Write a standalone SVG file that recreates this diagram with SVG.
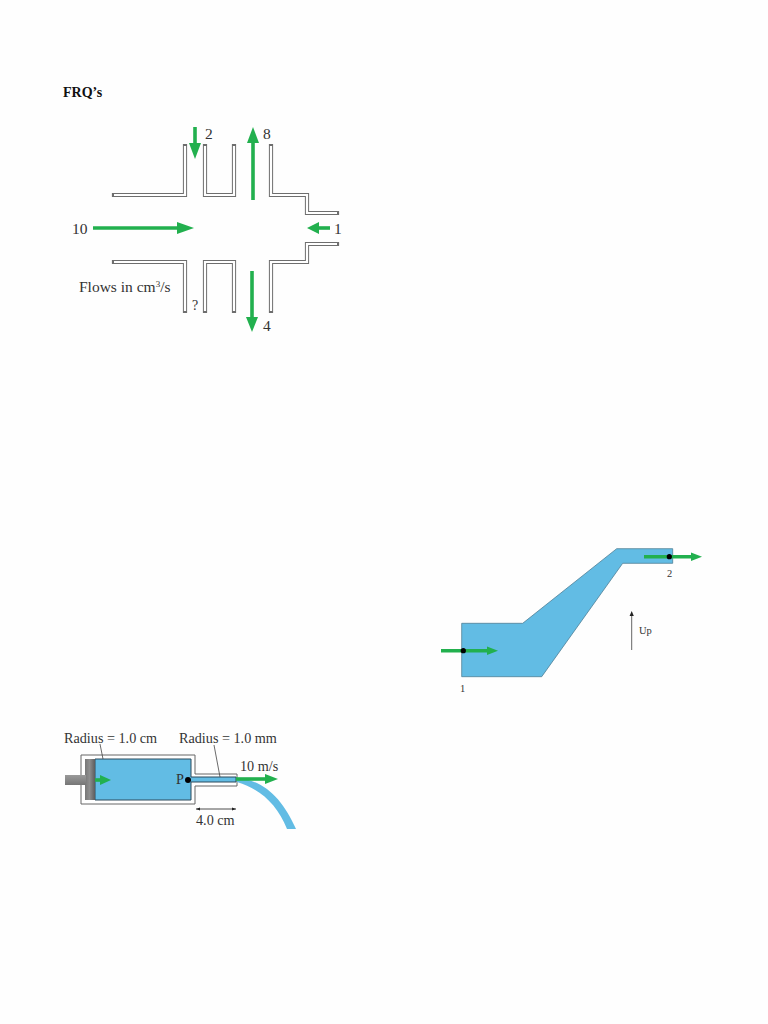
<svg xmlns="http://www.w3.org/2000/svg" width="768" height="1024" viewBox="0 0 768 1024">
<style>
text{font-family:"Liberation Serif","Times New Roman",serif;fill:#333}
.p{font-size:15.5px}
.s{font-size:14.2px}
.o{fill:none;stroke:#6e6e6e;stroke-width:4.2;stroke-linejoin:miter;stroke-linecap:square}
.i{fill:none;stroke:#fff;stroke-width:2.2;stroke-linejoin:miter}
.g{fill:none;stroke:#22b04e;stroke-width:3.6}
.gh{fill:#22b04e}
.w{fill:#62bce4}
.l{fill:none;stroke:#444;stroke-width:.8}
</style>
<defs>
<path id="wl" d="M114,195H185V146M205,146V195H234V146M271,146V195H307V213H337M114,262H185V311M205,311V262H234V311M271,311V262H307V244H337"/>
<linearGradient id="pist" x1="0" x2="1" y1="0" y2="0"><stop offset="0" stop-color="#777"/><stop offset=".45" stop-color="#8e8e8e"/><stop offset="1" stop-color="#5d5d5d"/></linearGradient>
<linearGradient id="rod" x1="0" x2="0" y1="0" y2="1"><stop offset="0" stop-color="#9a9a9a"/><stop offset="1" stop-color="#767676"/></linearGradient>
</defs>
<rect width="768" height="1024" fill="#fefefe"/>
<text x="63" y="97" font-size="14" font-weight="bold" style="fill:#111">FRQ’s</text>

<g id="junction">
<use href="#wl" class="o"/>
<use href="#wl" class="i"/>
<g id="junction-labels">
<text class="p" x="205" y="139">2</text>
<text class="p" x="263" y="139">8</text>
<text class="p" x="72" y="234">10</text>
<text class="p" x="334" y="234">1</text>
<text class="p" x="263" y="331">4</text>
<text x="192" y="310" font-size="14">?</text>
<text class="p" x="79" y="292">Flows in cm<tspan font-size="9" dy="-5">3</tspan><tspan dy="5">/s</tspan></text>
</g>
</g>
<g id="junction-arrows">
<path class="g" d="M93,228H178"/><path class="gh" d="M194,228L177,222V234Z"/>
<path class="g" d="M330,228H316"/><path class="gh" d="M307,228L319,222V234Z"/>
<path class="g" d="M195,127V145"/><path class="gh" d="M195,159L189,143H201Z"/>
<path class="g" d="M253,200V142"/><path class="gh" d="M253,127L247,143H259Z"/>
<path class="g" d="M252,271V318"/><path class="gh" d="M252,332L246,317H258Z"/>
</g>

<g id="cylinder">
<path d="M81,755H195V774H237V786H195V804H81Z" fill="#fff" stroke="#666" stroke-width="1"/>
<path d="M95,759H191V777H236V782H191V800H95Z" class="w" stroke="#2c4a5c" stroke-width="1"/>
<rect x="85" y="759" width="10" height="41" fill="url(#pist)"/>
<rect x="65" y="775" width="21" height="10" fill="url(#rod)"/>
<path class="l" d="M100,744L103,759M214,745L220,777"/>
<path class="w" d="M237,778C265,780 283,800 296,829H287C277,805 262,790 237,782Z"/>
<path class="g" d="M95,780H102" stroke-width="3"/><path class="gh" d="M111,780L100,775V785Z"/>
<path class="g" d="M236,779H268"/><path class="gh" d="M278,779L265,774V784Z"/>
<circle cx="188" cy="780" r="3" fill="#000"/>
<path d="M196,809H236" stroke="#222" stroke-width=".8" fill="none"/>
<path d="M196,809L200,807.5V810.5ZM236,809L232,807.5V810.5Z" fill="#222"/>
<text class="s" x="64" y="743">Radius = 1.0 cm</text>
<text class="s" x="179" y="743">Radius = 1.0 mm</text>
<text class="s" x="240" y="771">10 m/s</text>
<text class="s" x="176" y="784">P</text>
<text class="s" x="196" y="825">4.0 cm</text>
</g>

<g id="pipe">
<path d="M461.7,623.3H522.7L616.7,548.7H672.7V563.3H622.7L541.7,676.7H461.7Z" class="w" stroke="#4f7f96" stroke-width=".8"/>
<path class="g" d="M441,650.7H488" stroke-width="2.4"/><path class="gh" d="M498,650.7L487,646.5V655Z"/>
<circle cx="463.3" cy="650.7" r="2.6" fill="#000"/>
<path class="g" d="M644,556.7H692" stroke-width="2.4"/><path class="gh" d="M702,556.7L691,552.5V561Z"/>
<circle cx="669.3" cy="556.7" r="2.6" fill="#000"/>
<path d="M631.7,650V614" stroke="#555" stroke-width=".9" fill="none"/>
<path d="M631.7,611L629.6,616H633.8Z" fill="#222"/>
<text x="667" y="577" font-size="10.5">2</text>
<text x="460" y="692" font-size="10.5">1</text>
<text x="639" y="634" font-size="10.5">Up</text>
</g>
</svg>
